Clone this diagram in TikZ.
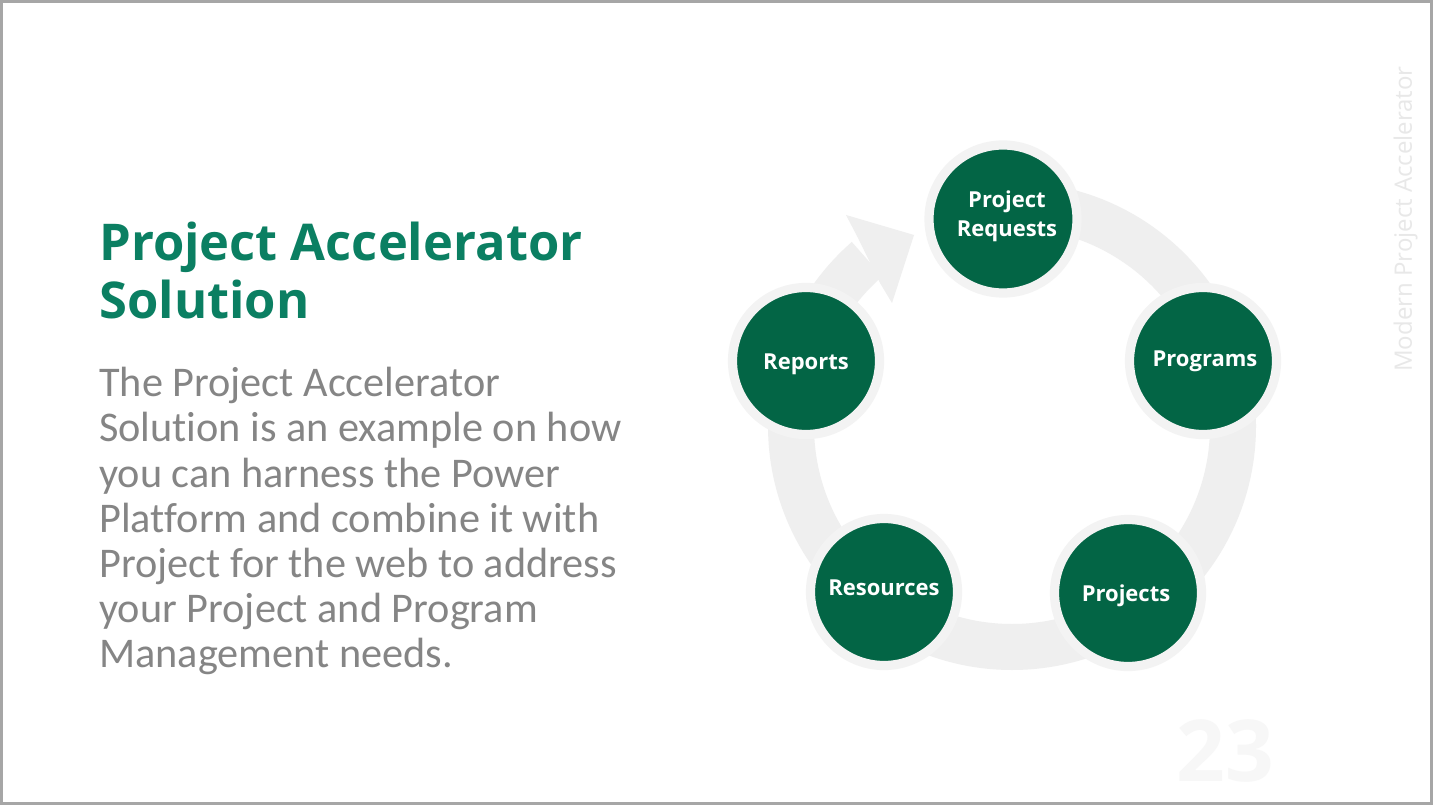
\documentclass[tikz,border=0pt]{standalone}
\usepackage{fontspec}
\setmainfont{Open Sans}
\newfontfamily\bodyfont[Ligatures=NoCommon]{Carlito}
\definecolor{dkgreen}{HTML}{036545}
\definecolor{titlegreen}{HTML}{0B7F62}
\definecolor{bodygray}{HTML}{858585}
\definecolor{ringgray}{HTML}{EFEFEF}
\definecolor{sidegray}{HTML}{E8E8E8}
\definecolor{halogray}{HTML}{F3F3F3}
\definecolor{framegray}{HTML}{A6A6A6}
\tikzset{
  px/.style={x=0.75pt,y=-0.75pt},
  stage/.style={circle,fill=dkgreen,draw=halogray,line width=6.9pt,minimum size=110.25pt,inner sep=0pt},
  stagetext/.style={inner sep=0pt,text=white,align=center,font=\fontsize{16.5}{21.5}\selectfont\bfseries},
  titletext/.style={anchor=north west,inner sep=0pt,text=titlegreen,align=left,font=\fontsize{38}{43}\selectfont\bfseries},
  bodytext/.style={anchor=north west,inner sep=0pt,text=bodygray,align=left,font=\bodyfont\fontsize{31.7}{33.9}\selectfont},
}
\begin{document}
\begin{tikzpicture}[px]
\useasboundingbox (0,0) rectangle (1433,805);
\fill[white] (0,0) rectangle (1433,805);
\draw[framegray,line width=2.25pt] (1.5,1.5) rectangle (1431.5,803.5);
% ring
\draw[ringgray,line width=34.5pt] (1012,205) arc[start angle=-90,end angle=229,x radius=221,y radius=221];
\fill[ringgray] (858,238) -- (846,215) -- (914,235) -- (892,303) -- (880,283) -- cycle;
% nodes
\node[stage,minimum size=111pt] (req) at (1003,219) {};
\node[stage] (prog) at (1203,361) {};
\node[stage] (proj) at (1128,593) {};
\node[stage] (res) at (884,592) {};
\node[stage] (rep) at (806,361) {};
\node[stagetext] (reqt) at ([shift={(4,-3)}]req.center) {Project\\Requests};
\node[stagetext] (progt) at ([shift={(2,0)}]prog.center) {Programs};
\node[stagetext] (projt) at ([shift={(-2,3)}]proj.center) {Projects};
\node[stagetext] (rest) at ([shift={(0,-4)}]res.center) {Resources};
\node[stagetext] (rept) at ([shift={(0,3)}]rep.center) {Reports};
% text
\node[titletext] (title) at (99,222) {Project Accelerator\\Solution};
\node[bodytext] (body) at (99,367) {The Project Accelerator\\Solution is an example on how\\you can harness the Power\\Platform and combine it with\\Project for the web to address\\your Project and Program\\Management needs.};
\node[anchor=south,rotate=90,inner sep=0pt,text=sidegray,font=\fontsize{18}{20}\selectfont] (side) at (1418,219) {Modern Project Accelerator};
\node[inner sep=0pt,text=black!3,font=\fontsize{64}{64}\selectfont\bfseries] (num) at (1225,751) {23};
\end{tikzpicture}
\end{document}
